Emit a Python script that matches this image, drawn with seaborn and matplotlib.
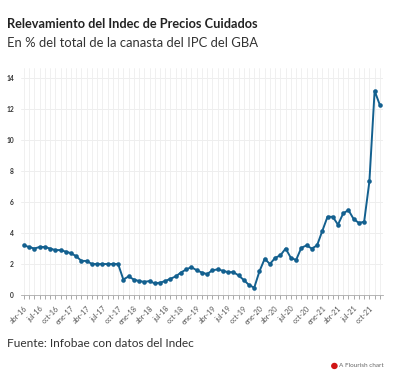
import numpy as np
import pandas as pd
import seaborn as sns
import matplotlib.pyplot as plt

# share of Precios Cuidados in the GBA CPI basket, monthly from abr-16 to dic-21
valores = [3.2, 3.1, 3.0, 3.1, 3.1, 3.0, 2.9, 2.9, 2.8, 2.7, 2.5, 2.2, 2.2,
           2.0, 2.0, 2.0, 2.0, 2.0, 2.0, 1.0, 1.2, 1.0, 0.9, 0.85, 0.9, 0.75,
           0.8, 0.9, 1.05, 1.2, 1.45, 1.65, 1.8, 1.6, 1.45, 1.35, 1.6, 1.65,
           1.57, 1.47, 1.48, 1.27, 0.97, 0.65, 0.47, 1.53, 2.34, 2.0, 2.4,
           2.56, 3.0, 2.4, 2.26, 3.05, 3.2, 3.0, 3.2, 4.13, 5.05, 5.05, 4.54,
           5.27, 5.48, 4.9, 4.65, 4.73, 7.33, 13.18, 12.26]

etiquetas = ["abr-16", "jul-16", "oct-16", "ene-17", "abr-17", "jul-17",
             "oct-17", "ene-18", "abr-18", "jul-18", "oct-18", "ene-19",
             "abr-19", "jul-19", "oct-19", "ene-20", "abr-20", "jul-20",
             "oct-20", "ene-21", "abr-21", "jul-21", "oct-21"]

df = pd.DataFrame({"mes": np.arange(len(valores)), "valor": valores})

sns.set_theme(style="white")
plt.rcParams["font.family"] = ["Lato", "DejaVu Sans"]

fig = plt.figure(figsize=(4, 3.82), dpi=100)
ax = fig.add_axes([0.0525, 0.2277, 0.905, 0.5942])

sns.lineplot(data=df, x="mes", y="valor", ax=ax, color="#13608f",
             linewidth=1.4, marker="o", markersize=3.3, markeredgewidth=0)

ax.set_xlim(-0.55, 68.6)
ax.set_ylim(0, 14.65)
ax.set_yticks(range(0, 15, 2))
ax.set_xticks(range(len(valores)), minor=True)
ax.set_xticks(range(0, 67, 3))
ax.set_xticklabels(etiquetas, rotation=45, ha="right", rotation_mode="anchor",
                   fontsize=5.2, color="#555555")
ax.tick_params(axis="y", labelsize=4.8, colors="#333333", length=0, pad=5)
ax.tick_params(axis="x", which="both", length=3, width=0.5, color="#888888",
               bottom=True, pad=4)
for lab in ax.get_yticklabels():
    lab.set_fontweight("bold")

ax.grid(axis="y", color="#eeeeee", linewidth=0.7)
ax.grid(axis="x", which="both", color="#eeeeee", linewidth=0.6)
ax.set_axisbelow(True)
for s in ["top", "right", "left"]:
    ax.spines[s].set_visible(False)
ax.spines["bottom"].set_color("#aaaaaa")
ax.spines["bottom"].set_linewidth(0.6)
ax.set_xlabel("")
ax.set_ylabel("")

fig.text(0.0175, 0.937, "Relevamiento del Indec de Precios Cuidados",
         fontsize=9.2, fontweight="bold", color="#222222", va="center")
fig.text(0.0175, 0.888, "En % del total de la canasta del IPC del GBA",
         fontsize=9.4, color="#333333", va="center")
fig.text(0.0175, 0.102, "Fuente: Infobae con datos del Indec",
         fontsize=8.6, color="#333333", va="center")
fig.text(0.848, 0.042, "A Flourish chart", fontsize=4.6, color="#666666",
         va="center")
fig.patches.append(plt.Circle((0.836, 0.042), 0.0065, color="#d01414",
                              transform=fig.transFigure, figure=fig))

fig.savefig("out.png", dpi=100)
